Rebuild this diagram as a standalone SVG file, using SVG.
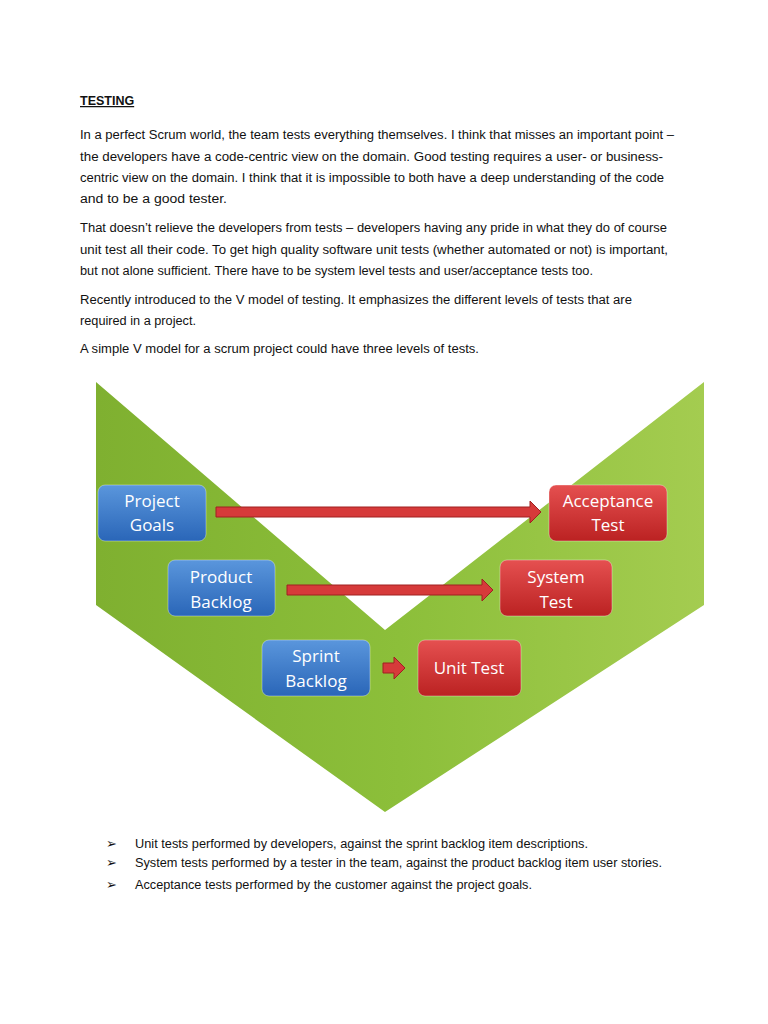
<svg xmlns="http://www.w3.org/2000/svg" width="768" height="1024" viewBox="0 0 768 1024">
<defs>
<linearGradient id="g" x1="0" y1="0" x2="1" y2="0"><stop offset="0" stop-color="#7fb030"/><stop offset="0.5" stop-color="#8cbf3a"/><stop offset="1" stop-color="#a4cc50"/></linearGradient>
<linearGradient id="b" x1="0" y1="0" x2="0" y2="1"><stop offset="0" stop-color="#5a96dc"/><stop offset="1" stop-color="#2a66b8"/></linearGradient>
<linearGradient id="r" x1="0" y1="0" x2="0" y2="1"><stop offset="0" stop-color="#e55050"/><stop offset="1" stop-color="#bb2222"/></linearGradient>
</defs>
<style>
.t{font-family:"Liberation Sans",Arial,sans-serif;font-size:12.5px;fill:#111}
.n{font-family:"Open Sans","Liberation Sans",sans-serif;font-size:17px;fill:#fff;text-anchor:middle}
.bx{stroke:#ffffff;stroke-opacity:.35;stroke-width:1}
.ar{fill:#d63a3a;stroke:#a02020;stroke-width:1}
</style>
<rect width="768" height="1024" fill="#fff"/>
<text class="t" x="80" y="105" font-weight="bold" text-decoration="underline">TESTING</text>
<text class="t" x="80" y="139" textLength="594" lengthAdjust="spacingAndGlyphs">In a perfect Scrum world, the team tests everything themselves. I think that misses an important point –</text>
<text class="t" x="80" y="161" textLength="583" lengthAdjust="spacingAndGlyphs">the developers have a code-centric view on the domain. Good testing requires a user- or business-</text>
<text class="t" x="80" y="182" textLength="584" lengthAdjust="spacingAndGlyphs">centric view on the domain. I think that it is impossible to both have a deep understanding of the code</text>
<text class="t" x="80" y="203" textLength="147" lengthAdjust="spacingAndGlyphs">and to be a good tester.</text>
<text class="t" x="80" y="232" textLength="587" lengthAdjust="spacingAndGlyphs">That doesn’t relieve the developers from tests – developers having any pride in what they do of course</text>
<text class="t" x="80" y="254" textLength="588" lengthAdjust="spacingAndGlyphs">unit test all their code. To get high quality software unit tests (whether automated or not) is important,</text>
<text class="t" x="80" y="275" textLength="513" lengthAdjust="spacingAndGlyphs">but not alone sufficient. There have to be system level tests and user/acceptance tests too.</text>
<text class="t" x="80" y="304" textLength="552" lengthAdjust="spacingAndGlyphs">Recently introduced to the V model of testing. It emphasizes the different levels of tests that are</text>
<text class="t" x="80" y="325" textLength="116" lengthAdjust="spacingAndGlyphs">required in a project.</text>
<text class="t" x="80" y="353" textLength="399" lengthAdjust="spacingAndGlyphs">A simple V model for a scrum project could have three levels of tests.</text>

<g id="vshape">
<path d="M96 382 L385 630 L704 382 L704 605 L385 812 L96 605 Z" fill="url(#g)"/>
</g>

<g id="connectors">
<path class="ar" d="M216 507 L530 507 L530 501 L541 512 L530 523 L530 517 L216 517 Z"/>
<path class="ar" d="M287 585 L482 585 L482 579 L493 590 L482 601 L482 595 L287 595 Z"/>
<path class="ar" d="M383 663 L394 663 L394 657 L405 668 L394 679 L394 673 L383 673 Z"/>
</g>

<g id="project-goals"><rect class="bx" x="98" y="485" width="108" height="56" rx="7" fill="url(#b)"/><text class="n" x="152" y="507">Project</text><text class="n" x="152" y="531">Goals</text></g>
<g id="acceptance-test"><rect class="bx" x="549" y="485" width="118" height="56" rx="7" fill="url(#r)"/><text class="n" x="608" y="507">Acceptance</text><text class="n" x="608" y="531">Test</text></g>
<g id="product-backlog"><rect class="bx" x="168" y="560" width="107" height="56" rx="7" fill="url(#b)"/><text class="n" x="221" y="583">Product</text><text class="n" x="221" y="608">Backlog</text></g>
<g id="system-test"><rect class="bx" x="500" y="560" width="112" height="56" rx="7" fill="url(#r)"/><text class="n" x="556" y="583">System</text><text class="n" x="556" y="608">Test</text></g>
<g id="sprint-backlog"><rect class="bx" x="262" y="640" width="108" height="56" rx="7" fill="url(#b)"/><text class="n" x="316" y="662">Sprint</text><text class="n" x="316" y="687">Backlog</text></g>
<g id="unit-test"><rect class="bx" x="418" y="640" width="103" height="56" rx="7" fill="url(#r)"/><text class="n" x="469" y="674">Unit Test</text></g>

<text class="t" x="106" y="848">➢</text>
<text class="t" x="135" y="848" textLength="453" lengthAdjust="spacingAndGlyphs">Unit tests performed by developers, against the sprint backlog item descriptions.</text>
<text class="t" x="106" y="867">➢</text>
<text class="t" x="135" y="867" textLength="527" lengthAdjust="spacingAndGlyphs">System tests performed by a tester in the team, against the product backlog item user stories.</text>
<text class="t" x="106" y="889">➢</text>
<text class="t" x="135" y="889" textLength="397" lengthAdjust="spacingAndGlyphs">Acceptance tests performed by the customer against the project goals.</text>
</svg>
